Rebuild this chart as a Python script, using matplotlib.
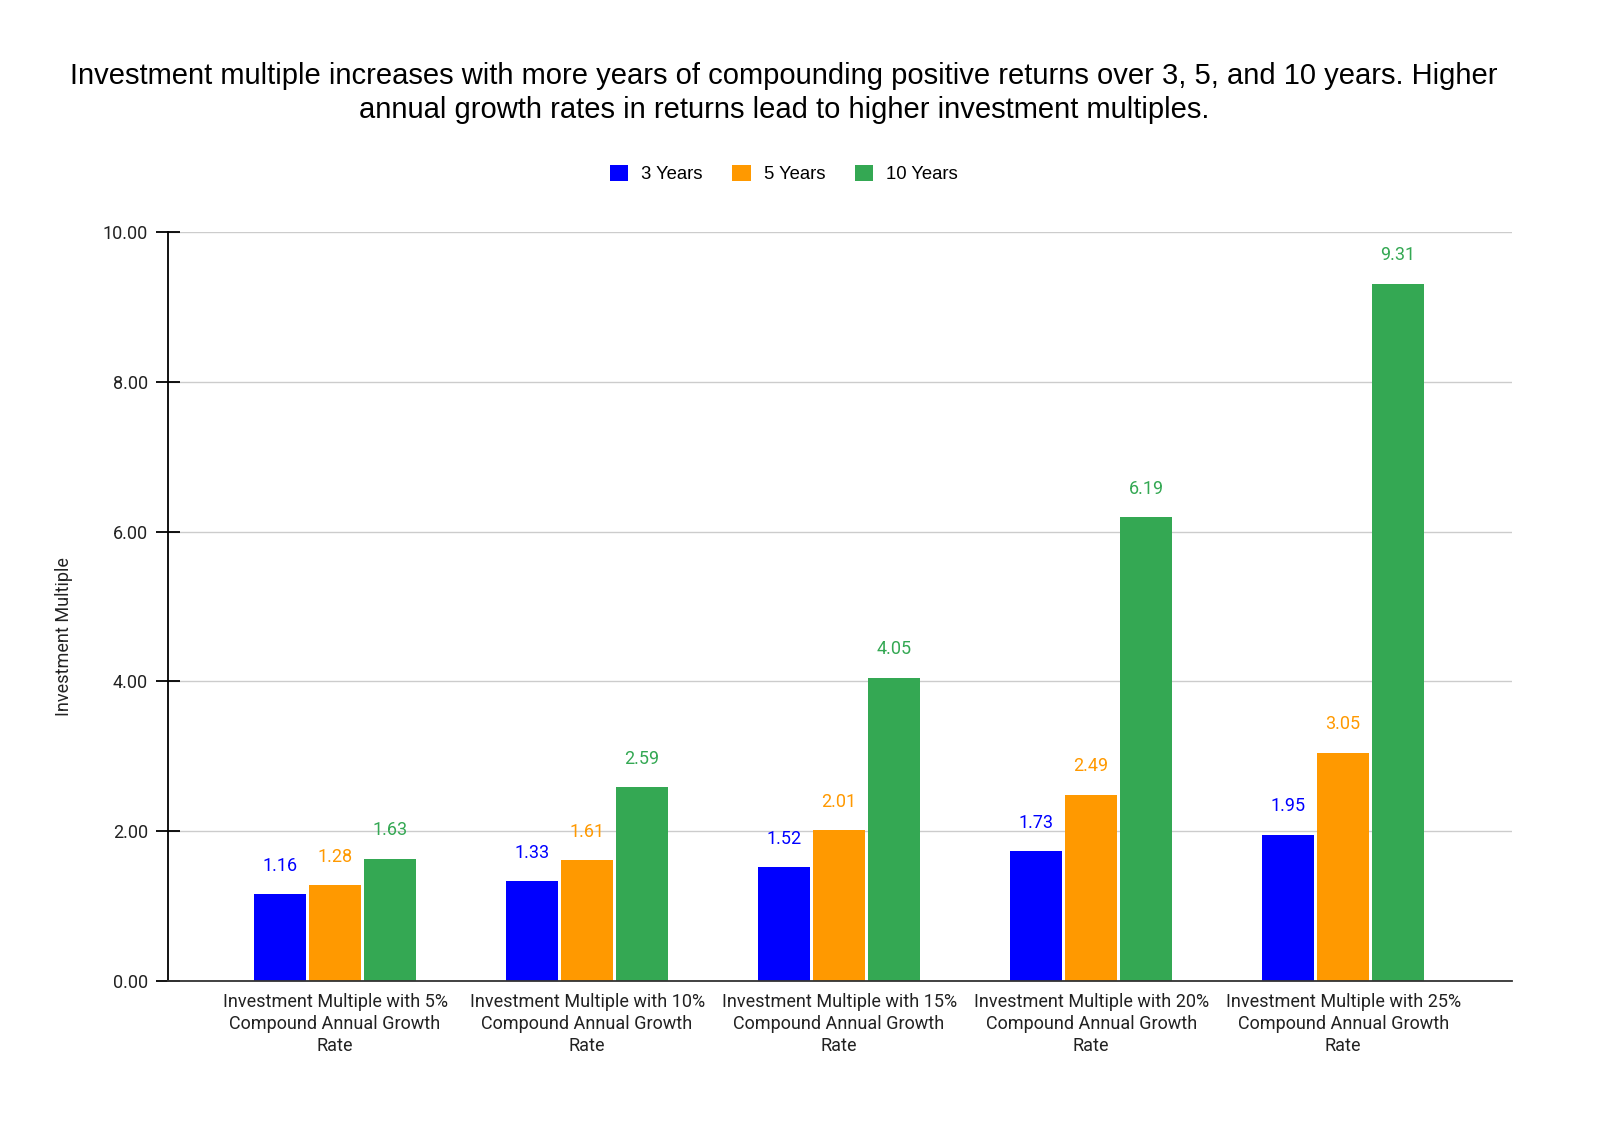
import numpy as np
import matplotlib.pyplot as plt

categories = [
    'Investment Multiple with 5%\nCompound Annual Growth\nRate',
    'Investment Multiple with 10%\nCompound Annual Growth\nRate',
    'Investment Multiple with 15%\nCompound Annual Growth\nRate',
    'Investment Multiple with 20%\nCompound Annual Growth\nRate',
    'Investment Multiple with 25%\nCompound Annual Growth\nRate',
]
series_names = ['3 Years', '5 Years', '10 Years']
years_3 = [1.16, 1.33, 1.52, 1.73, 1.95]
years_5 = [1.28, 1.61, 2.01, 2.49, 3.05]
years_10 = [1.63, 2.59, 4.05, 6.19, 9.31]
colors = ['#0000FF', '#FF9900', '#34A853']

plt.rcParams['font.family'] = ['Roboto', 'DejaVu Sans']

fig = plt.figure(figsize=(16, 11.32), dpi=100)
ax = fig.add_axes([0.105, 0.1334, 0.84, 0.6616])

x = np.arange(len(categories))
width = 0.206
pitch = 0.218
for i, (vals, name, c) in enumerate(zip([years_3, years_5, years_10], series_names, colors)):
    pos = x + (i - 1) * pitch
    ax.bar(pos, vals, width=width, color=c, label=name, zorder=3)
    for px, v in zip(pos, vals):
        ax.annotate(f'{v:.2f}', (px, v), xytext=(0, 20.5), textcoords='offset points',
                    ha='center', va='center', color=c, fontsize=13, zorder=4)

ax.set_xlim(-0.663, 4.67)
ax.set_ylim(0, 10)
ax.set_yticks(np.arange(0, 10.1, 2))
ax.set_yticklabels([f'{t:.2f}' for t in np.arange(0, 10.1, 2)], fontsize=13, color='#222222')
ax.set_xticks(x)
ax.set_xticklabels(categories, fontsize=13, color='#222222', linespacing=1.28)
ax.tick_params(axis='x', length=0, pad=9)
ax.tick_params(axis='y', direction='inout', length=17, width=1.3, color='black', pad=6)
ax.grid(axis='y', color='#CCCCCC', linewidth=1, zorder=0)
for s in ['top', 'right']:
    ax.spines[s].set_visible(False)
ax.spines['left'].set_color('black')
ax.spines['left'].set_linewidth(1.3)
ax.spines['bottom'].set_color('#333333')
ax.spines['bottom'].set_linewidth(1.3)
ax.spines['bottom'].set_zorder(5)

ax.set_ylabel('Investment Multiple', fontsize=13, color='#222222')
ax.yaxis.set_label_coords(-0.071, 0.46)

fig.suptitle('Investment multiple increases with more years of compounding positive returns over 3, 5, and 10 years. Higher\n'
             'annual growth rates in returns lead to higher investment multiples.',
             x=0.49, y=0.945, fontsize=21, family=['Liberation Sans', 'DejaVu Sans'], linespacing=1.28)

fig.legend(loc='center', bbox_to_anchor=(784 / 1600, 1 - 174 / 1132), ncol=3, frameon=False,
           handlelength=1.0, handleheight=1.0, columnspacing=1.6, handletextpad=0.7,
           prop={'family': ['Liberation Sans', 'DejaVu Sans'], 'size': 13.3})

fig.savefig('out.png', dpi=100)
